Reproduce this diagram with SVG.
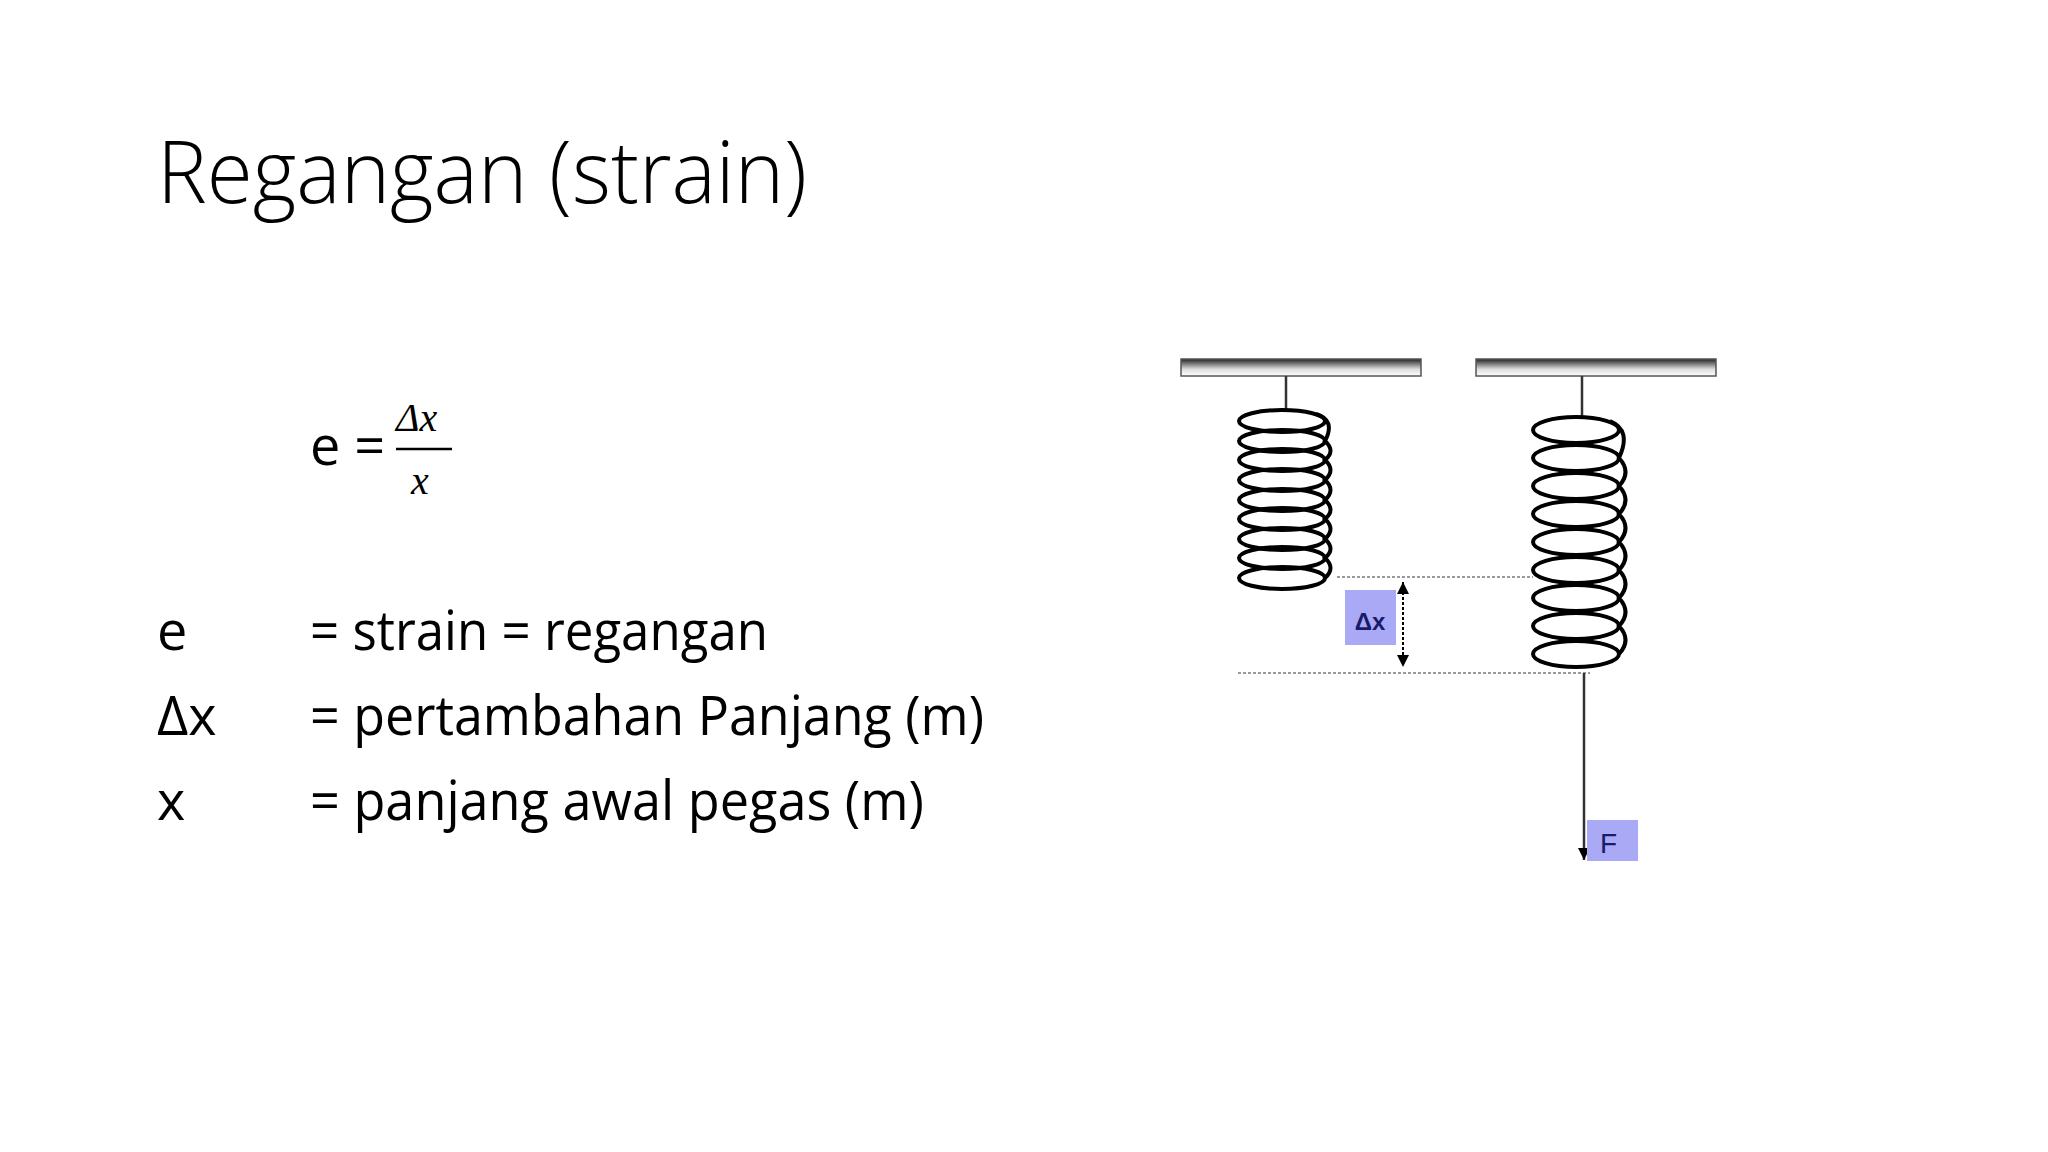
<svg xmlns="http://www.w3.org/2000/svg" width="2048" height="1152" viewBox="0 0 2048 1152">
<style>
.t{font-family:"Open Sans","Liberation Sans",sans-serif;fill:#000}
.b{font-size:54px}
.m{font-family:"Liberation Serif",serif;font-style:italic;font-size:40px}
.coil{fill:none;stroke:#000;stroke-width:4}
.dot{stroke:#999;stroke-width:2;stroke-dasharray:3 2}
</style>
<defs>
<linearGradient id="bar" x1="0" y1="0" x2="0" y2="1"><stop offset="0" stop-color="#222"/><stop offset="0.6" stop-color="#ddd"/><stop offset="1" stop-color="#fff"/></linearGradient>
<marker id="ah" markerWidth="10" markerHeight="12" refX="5" refY="12" orient="auto-start-reverse" markerUnits="userSpaceOnUse"><path d="M0,0 L10,0 L5,12 Z" fill="#000" transform="rotate(0)"/></marker>
<marker id="ar" viewBox="0 0 10 10" refX="10" refY="5" markerWidth="12" markerHeight="12" orient="auto-start-reverse" markerUnits="userSpaceOnUse"><path d="M0,0 L10,5 L0,10 Z" fill="#000"/></marker>
</defs>
<rect width="2048" height="1152" fill="#fff"/>
<g id="title"><text class="t" x="157" y="203" font-size="86" font-weight="300" textLength="650" lengthAdjust="spacingAndGlyphs">Regangan (strain)</text></g>
<g id="formula">
<text class="t b" x="310" y="465">e =</text>
<text class="m" x="396" y="431">Δ<tspan>x</tspan></text>
<line x1="396" y1="449" x2="452" y2="449" stroke="#000" stroke-width="2.5"/>
<text class="m" x="411" y="494">x</text>
</g>
<g id="legend">
<text class="t b" x="157" y="650">e</text><text class="t b" x="310" y="650" textLength="458" lengthAdjust="spacingAndGlyphs">= strain = regangan</text>
<text class="t b" x="157" y="735">Δx</text><text class="t b" x="310" y="735" textLength="674" lengthAdjust="spacingAndGlyphs">= pertambahan Panjang (m)</text>
<text class="t b" x="157" y="820">x</text><text class="t b" x="310" y="820" textLength="614" lengthAdjust="spacingAndGlyphs">= panjang awal pegas (m)</text>
</g>
<g id="spring-left">
<rect x="1181" y="359" width="240" height="17" fill="url(#bar)" stroke="#555" stroke-width="1.5"/>
<line x1="1286" y1="376" x2="1286" y2="410" stroke="#333" stroke-width="2.5"/>
<g class="coil">
<ellipse cx="1282" cy="421" rx="43" ry="11"/><ellipse cx="1282" cy="441" rx="43" ry="11"/><ellipse cx="1282" cy="460" rx="43" ry="11"/><ellipse cx="1282" cy="480" rx="43" ry="11"/><ellipse cx="1282" cy="500" rx="43" ry="11"/><ellipse cx="1282" cy="519" rx="43" ry="11"/><ellipse cx="1282" cy="539" rx="43" ry="11"/><ellipse cx="1282" cy="558" rx="43" ry="11"/><ellipse cx="1282" cy="578" rx="43" ry="11"/>
<path d="M1316,414 Q1336,420 1325,441 Q1336,451 1325,460 Q1336,470 1325,480 Q1336,490 1325,500 Q1336,510 1325,519 Q1336,529 1325,539 Q1336,549 1325,558 Q1336,568 1325,578"/>
</g>
</g>
<g id="spring-right">
<rect x="1476" y="359" width="240" height="17" fill="url(#bar)" stroke="#555" stroke-width="1.5"/>
<line x1="1582" y1="376" x2="1582" y2="416" stroke="#333" stroke-width="2.5"/>
<g class="coil">
<ellipse cx="1576" cy="430" rx="43" ry="13"/><ellipse cx="1576" cy="458" rx="43" ry="13"/><ellipse cx="1576" cy="486" rx="43" ry="13"/><ellipse cx="1576" cy="514" rx="43" ry="13"/><ellipse cx="1576" cy="542" rx="43" ry="13"/><ellipse cx="1576" cy="570" rx="43" ry="13"/><ellipse cx="1576" cy="598" rx="43" ry="13"/><ellipse cx="1576" cy="626" rx="43" ry="13"/><ellipse cx="1576" cy="654" rx="43" ry="13"/>
<path d="M1610,421 Q1632,430 1619,458 Q1632,472 1619,486 Q1632,500 1619,514 Q1632,528 1619,542 Q1632,556 1619,570 Q1632,584 1619,598 Q1632,612 1619,626 Q1632,640 1619,654"/>
</g>
</g>
<g id="connectors">
<line class="dot" x1="1337" y1="577" x2="1533" y2="577"/>
<line class="dot" x1="1238" y1="673" x2="1590" y2="673"/>
<line x1="1403" y1="582" x2="1403" y2="667" stroke="#000" stroke-width="2" stroke-dasharray="3 2" marker-start="url(#ar)" marker-end="url(#ar)"/>
<line x1="1584" y1="673" x2="1584" y2="860" stroke="#333" stroke-width="2.5" marker-end="url(#ar)"/>
</g>
<g id="label-dx">
<rect x="1345" y="619" width="51" height="0" fill="none"/>
<rect x="1345" y="590" width="51" height="55" fill="#a9a9f5"/>
<text x="1370" y="630" font-family="Liberation Sans,sans-serif" font-size="24" font-weight="bold" fill="#1a1a6a" text-anchor="middle">Δx</text>
</g>
<g id="label-f">
<rect x="1587" y="820" width="51" height="41" fill="#a9a9f5"/>
<text x="1600" y="853" font-family="Liberation Sans,sans-serif" font-size="28" fill="#1a1a6a">F</text>
</g>
</svg>
